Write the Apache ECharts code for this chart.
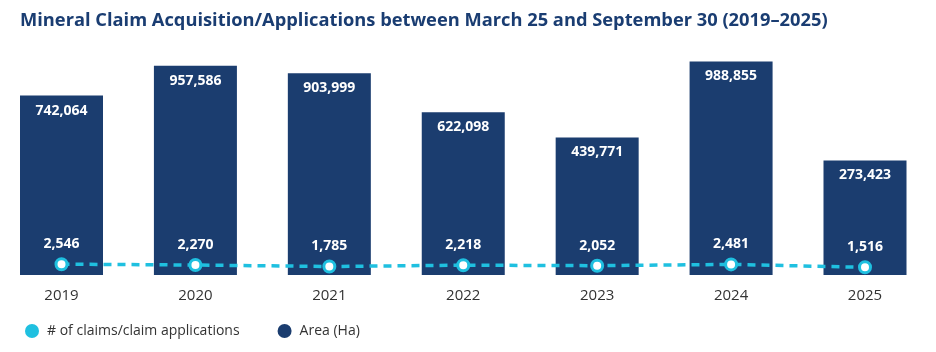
<!DOCTYPE html>
<html>
<head>
<meta charset="utf-8">
<script src="https://cdn.jsdelivr.net/npm/echarts@6/dist/echarts.min.js"></script>
<style>html,body{margin:0;padding:0;background:#fff}#c{width:936px;height:352px}</style>
</head>
<body>
<div id="c"></div>
<script>
const titleText = 'Mineral Claim Acquisition/Applications between March 25 and September 30 (2019–2025)';
const years = ['2019', '2020', '2021', '2022', '2023', '2024', '2025'];
const areaHa = [742064, 957586, 903999, 622098, 439771, 988855, 273423];
const claims = [2546, 2270, 1785, 2218, 2052, 2481, 1516];
const seriesNames = ['# of claims/claim applications', 'Area (Ha)'];

const navy = '#1b3d6f';
const cyan = '#1fc0e0';
const fmt = v => v.toLocaleString('en-US');
const chart = echarts.init(document.getElementById('c'), null, {renderer: 'canvas'});
chart.setOption({
  animation: false,
  title: {
    text: titleText, left: 15, top: 7,
    textStyle: {fontFamily: 'Open Sans', fontWeight: 'bold', fontSize: 18.3, color: '#1a3d72'}
  },
  legend: {
    left: 20, top: 319, itemGap: 38, itemWidth: 14, itemHeight: 14,
    data: [{name: seriesNames[0], icon: 'circle', itemStyle: {color: cyan, borderWidth: 0}},
           {name: seriesNames[1], icon: 'circle', itemStyle: {color: navy}}],
    textStyle: {fontFamily: 'Open Sans', fontSize: 14, color: '#333', padding: [0, 0, 0, 3]}
  },
  grid: {left: 61.5, right: 71, top: 40, bottom: 77, containLabel: false},
  xAxis: {
    type: 'category', data: years, boundaryGap: false,
    axisLine: {show: false}, axisTick: {show: false},
    axisLabel: {fontFamily: 'Open Sans', fontSize: 15, color: '#333', margin: 13}
  },
  yAxis: [
    {type: 'value', min: -555000, max: 1144000, startValue: -555000, show: false, splitLine: {show: false}},
    {type: 'value', min: -1000, max: 76000, show: false, splitLine: {show: false}}
  ],
  series: [
    {
      name: seriesNames[1], type: 'bar', data: areaHa, yAxisIndex: 0, barWidth: 83,
      itemStyle: {color: navy},
      label: {show: true, position: 'insideTop', distance: 8, formatter: p => fmt(p.value),
        fontFamily: 'Open Sans', fontWeight: 'bold', fontSize: 14, color: '#fff'},
      z: 1
    },
    {
      name: seriesNames[0], type: 'line', data: claims, yAxisIndex: 1,
      symbol: 'circle', symbolSize: 11,
      itemStyle: {color: '#fff', borderColor: cyan, borderWidth: 3},
      lineStyle: {color: cyan, width: 3.5, type: [8, 6]},
      label: {show: true, position: 'top', distance: 6, formatter: p => fmt(p.value),
        fontFamily: 'Open Sans', fontWeight: 'bold', fontSize: 14, color: '#fff'},
      z: 3
    }
  ]
});
</script>
</body>
</html>
